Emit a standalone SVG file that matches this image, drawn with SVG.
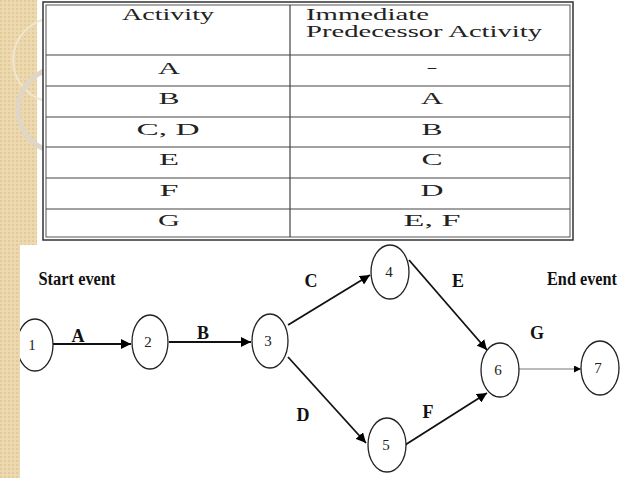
<svg xmlns="http://www.w3.org/2000/svg" width="638" height="478" viewBox="0 0 638 478">
<defs>
<pattern id="dots" width="4" height="4" patternUnits="userSpaceOnUse"><rect width="4" height="4" fill="#ecd9b0"/><rect width="2" height="2" fill="#e2cb98"/></pattern>
<marker id="ah" viewBox="0 0 10 10" refX="10" refY="5" markerWidth="7" markerHeight="7" orient="auto" markerUnits="userSpaceOnUse"><path d="M0,0L10,5L0,10z" fill="#000"/></marker>
<marker id="ah2" viewBox="0 0 10 10" refX="10" refY="5" markerWidth="10" markerHeight="10" orient="auto" markerUnits="userSpaceOnUse"><path d="M0,0L10,5L0,10z" fill="#000"/></marker>
</defs>
<style>
.t{font-family:"Liberation Serif",serif;font-size:17px;fill:#222;text-anchor:middle}
.h{font-family:"Liberation Serif",serif;font-size:16px;fill:#222}
.n{font-family:"Liberation Serif",serif;font-size:15px;fill:#222;text-anchor:middle}
.l{font-family:"Liberation Serif",serif;font-size:18px;font-weight:bold;fill:#111;text-anchor:middle}
.c{fill:#fff;stroke:#222;stroke-width:1.3}
.e{stroke:#111;stroke-width:1.8;fill:none;marker-end:url(#ah2)}
</style>
<rect width="638" height="478" fill="#fff"/>
<rect x="0" y="0" width="37" height="245" fill="url(#dots)"/>
<rect x="0" y="245" width="20" height="233" fill="url(#dots)"/>
<circle cx="55" cy="60" r="42" fill="none" stroke="#f0e6d0" stroke-width="2"/>
<circle cx="60" cy="110" r="42" fill="none" stroke="#e0d6c6" stroke-width="5"/>
<g id="table">
<rect x="43" y="2" width="530" height="238" fill="#fff" stroke="#333" stroke-width="1.5"/>
<rect x="46" y="5" width="524" height="232" fill="none" stroke="#555" stroke-width="1"/>
<g stroke="#444" stroke-width="1.2">
<line x1="290" y1="5" x2="290" y2="237"/>
<line x1="46" y1="55" x2="570" y2="55"/>
<line x1="46" y1="86" x2="570" y2="86"/>
<line x1="46" y1="117" x2="570" y2="117"/>
<line x1="46" y1="147" x2="570" y2="147"/>
<line x1="46" y1="178" x2="570" y2="178"/>
<line x1="46" y1="209" x2="570" y2="209"/>
</g>
<text class="t" x="168" y="20" textLength="92" lengthAdjust="spacingAndGlyphs">Activity</text>
<text class="h" x="306" y="20" textLength="123" lengthAdjust="spacingAndGlyphs">Immediate</text>
<text class="h" x="306" y="37" textLength="236" lengthAdjust="spacingAndGlyphs">Predecessor Activity</text>
<text class="t" x="169" y="74" textLength="22" lengthAdjust="spacingAndGlyphs">A</text><text class="t" x="432" y="72">–</text>
<text class="t" x="169" y="104" textLength="21" lengthAdjust="spacingAndGlyphs">B</text><text class="t" x="432" y="104" textLength="22" lengthAdjust="spacingAndGlyphs">A</text>
<text class="t" x="168" y="135" textLength="63" lengthAdjust="spacingAndGlyphs">C, D</text><text class="t" x="432" y="135" textLength="21" lengthAdjust="spacingAndGlyphs">B</text>
<text class="t" x="169" y="165" textLength="20" lengthAdjust="spacingAndGlyphs">E</text><text class="t" x="432" y="165" textLength="21" lengthAdjust="spacingAndGlyphs">C</text>
<text class="t" x="169" y="196" textLength="19" lengthAdjust="spacingAndGlyphs">F</text><text class="t" x="432" y="196" textLength="23" lengthAdjust="spacingAndGlyphs">D</text>
<text class="t" x="169" y="226" textLength="22" lengthAdjust="spacingAndGlyphs">G</text><text class="t" x="432" y="226" textLength="57" lengthAdjust="spacingAndGlyphs">E, F</text>
</g>
<g id="connectors">
<line class="e" x1="53" y1="344" x2="131" y2="344"/>
<line class="e" x1="169" y1="342" x2="251" y2="342"/>
<line class="e" x1="288" y1="325" x2="370" y2="275"/>
<line class="e" x1="409" y1="260" x2="487" y2="350"/>
<line class="e" x1="288" y1="357" x2="366" y2="443"/>
<line class="e" x1="405" y1="445" x2="487" y2="393"/>
<line x1="518" y1="369" x2="581" y2="369" stroke="#777" stroke-width="1.2" marker-end="url(#ah)"/>
</g>
<g id="labels">
<text class="l" x="77" y="285" textLength="77" lengthAdjust="spacingAndGlyphs">Start event</text>
<text class="l" x="582" y="285" textLength="70" lengthAdjust="spacingAndGlyphs">End event</text>
<text class="l" x="78" y="342">A</text>
<text class="l" x="203" y="339">B</text>
<text class="l" x="311" y="287">C</text>
<text class="l" x="458" y="287">E</text>
<text class="l" x="537" y="339">G</text>
<text class="l" x="303" y="421">D</text>
<text class="l" x="428" y="418">F</text>
</g>
<g id="n1"><ellipse class="c" cx="35" cy="345" rx="18" ry="26"/><text class="n" x="32" y="350">1</text></g>
<rect x="0" y="315" width="20" height="60" fill="url(#dots)"/>
<g id="n2"><ellipse class="c" cx="150" cy="342" rx="18" ry="27"/><text class="n" x="148" y="347">2</text></g>
<g id="n3"><ellipse class="c" cx="270" cy="341" rx="18" ry="27"/><text class="n" x="268" y="346">3</text></g>
<g id="n4"><ellipse class="c" cx="390" cy="272" rx="19" ry="27"/><text class="n" x="389" y="277">4</text></g>
<g id="n5"><ellipse class="c" cx="387" cy="445" rx="19" ry="27"/><text class="n" x="386" y="450">5</text></g>
<g id="n6"><ellipse class="c" cx="500" cy="370" rx="19" ry="27"/><text class="n" x="498" y="375">6</text></g>
<g id="n7"><ellipse class="c" cx="600" cy="368" rx="19" ry="27"/><text class="n" x="598" y="373">7</text></g>
</svg>
